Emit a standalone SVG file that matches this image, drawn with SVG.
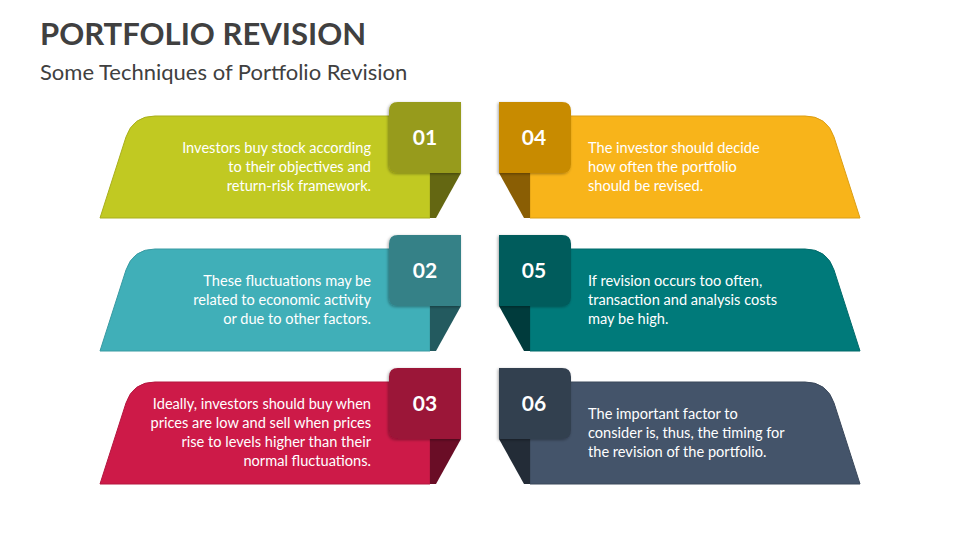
<svg xmlns="http://www.w3.org/2000/svg" width="960" height="540" viewBox="0 0 960 540">
<defs>
<filter id="sh" x="-20%" y="-20%" width="140%" height="140%">
<feDropShadow dx="-1" dy="1" stdDeviation="1.5" flood-color="#000" flood-opacity="0.35"/>
</filter>
<path id="bodyL" d="M100,218 L126,137 Q133,116 155,116 L430,116 L430,218 Z"/>
<path id="foldL" d="M430,173 L461,173 L436,218 L430,218 Z"/>
<path id="tabL" d="M398,102 L461,102 L461,173 L398,173 Q389,173 389,164 L389,111 Q389,102 398,102 Z"/>
<path id="bodyR" d="M860,218 L834,137 Q827,116 805,116 L530,116 L530,218 Z"/>
<path id="foldR" d="M530,173 L499,173 L524,218 L530,218 Z"/>
<path id="tabR" d="M562,102 L499,102 L499,173 L562,173 Q571,173 571,164 L571,111 Q571,102 562,102 Z"/>
</defs>
<style>
.title{font-family:"Lato","Liberation Sans",sans-serif;font-weight:bold;font-size:31px;fill:#404040}
.sub{font-family:"Lato","Liberation Sans",sans-serif;font-size:22px;fill:#404040}
.txt{font-family:"Lato","Liberation Sans",sans-serif;font-size:14.6px;fill:#ffffff}
.num{font-family:"Lato","Liberation Sans",sans-serif;font-weight:bold;font-size:21px;fill:#ffffff;text-anchor:middle}
.l{text-anchor:end}
.tab{filter:url(#sh)}
</style>
<rect width="960" height="540" fill="#ffffff"/>
<text class="title" x="40" y="45">PORTFOLIO REVISION</text>
<text class="sub" x="40" y="80">Some Techniques of Portfolio Revision</text>

<g id="node-01">
<use href="#bodyL" fill="#C1C922" stroke="#A9AF1C" stroke-width="1"/>
<use href="#foldL" fill="#646712"/>
<use href="#tabL" class="tab" fill="#979B1A"/>
<text class="num" x="425" y="145">01</text>
<text class="txt l" y="153"><tspan x="371">Investors buy stock according</tspan><tspan x="371" dy="19">to their objectives and</tspan><tspan x="371" dy="19">return-risk framework.</tspan></text>
</g>

<g id="node-02" transform="translate(0,133)">
<use href="#bodyL" fill="#40AFB8" stroke="#389AA2" stroke-width="1"/>
<use href="#foldL" fill="#235A5F"/>
<use href="#tabL" class="tab" fill="#358187"/>
<text class="num" x="425" y="145">02</text>
<text class="txt l" y="153"><tspan x="371">These fluctuations may be</tspan><tspan x="371" dy="19">related to economic activity</tspan><tspan x="371" dy="19">or due to other factors.</tspan></text>
</g>

<g id="node-03" transform="translate(0,266)">
<use href="#bodyL" fill="#CD1A48" stroke="#B4163F" stroke-width="1"/>
<use href="#foldL" fill="#6A0D26"/>
<use href="#tabL" class="tab" fill="#9B1337"/>
<text class="num" x="425" y="145">03</text>
<text class="txt l" y="143"><tspan x="371">Ideally, investors should buy when</tspan><tspan x="371" dy="19">prices are low and sell when prices</tspan><tspan x="371" dy="19">rise to levels higher than their</tspan><tspan x="371" dy="19">normal fluctuations.</tspan></text>
</g>

<g id="node-04">
<use href="#bodyR" fill="#F8B41A" stroke="#DC9E14" stroke-width="1"/>
<use href="#foldR" fill="#8A5E04"/>
<use href="#tabR" class="tab" fill="#C88B06"/>
<text class="num" x="534" y="145">04</text>
<text class="txt" y="153"><tspan x="588">The investor should decide</tspan><tspan x="588" dy="19">how often the portfolio</tspan><tspan x="588" dy="19">should be revised.</tspan></text>
</g>

<g id="node-05" transform="translate(0,133)">
<use href="#bodyR" fill="#007A7A" stroke="#006A6A" stroke-width="1"/>
<use href="#foldR" fill="#003B3C"/>
<use href="#tabR" class="tab" fill="#005B5C"/>
<text class="num" x="534" y="145">05</text>
<text class="txt" y="153"><tspan x="588">If revision occurs too often,</tspan><tspan x="588" dy="19">transaction and analysis costs</tspan><tspan x="588" dy="19">may be high.</tspan></text>
</g>

<g id="node-06" transform="translate(0,266)">
<use href="#bodyR" fill="#44546A" stroke="#3A485B" stroke-width="1"/>
<use href="#foldR" fill="#232C37"/>
<use href="#tabR" class="tab" fill="#333F50"/>
<text class="num" x="534" y="145">06</text>
<text class="txt" y="153"><tspan x="588">The important factor to</tspan><tspan x="588" dy="19">consider is, thus, the timing for</tspan><tspan x="588" dy="19">the revision of the portfolio.</tspan></text>
</g>

<g id="connectors"/>
</svg>
